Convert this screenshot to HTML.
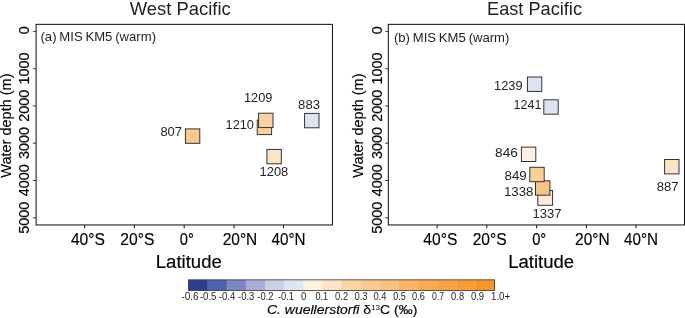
<!DOCTYPE html>
<html><head><meta charset="utf-8"><title>Pacific d13C</title>
<style>html,body{margin:0;padding:0;background:#fff}svg{display:block}text{font-family:"Liberation Sans",Arial,sans-serif}.ax{fill:#000;stroke:#000;stroke-width:.15}.lb{fill:#1f1f1f}.sq{stroke:#2b2b2b;stroke-width:.95}</style></head><body>
<svg width="685" height="318" viewBox="0 0 685 318">
<rect width="685" height="318" fill="#fff"/>
<rect x="36.10" y="24.35" width="296.35" height="200.6" fill="none" stroke="#0a0a0a" stroke-width="1"/>
<line x1="32.9" x2="36.1" y1="31.4" y2="31.4" stroke="#151515" stroke-width="0.8"/>
<text font-size="14.4" class="ax" text-anchor="middle" transform="translate(29.4 30.2) rotate(-90) scale(1 1.07)">0</text>
<line x1="32.9" x2="36.1" y1="68.7" y2="68.7" stroke="#151515" stroke-width="0.8"/>
<text font-size="14.4" class="ax" text-anchor="middle" transform="translate(29.4 68.5) rotate(-90) scale(1 1.07)">1000</text>
<line x1="32.9" x2="36.1" y1="105.9" y2="105.9" stroke="#151515" stroke-width="0.8"/>
<text font-size="14.4" class="ax" text-anchor="middle" transform="translate(29.4 105.7) rotate(-90) scale(1 1.07)">2000</text>
<line x1="32.9" x2="36.1" y1="143.2" y2="143.2" stroke="#151515" stroke-width="0.8"/>
<text font-size="14.4" class="ax" text-anchor="middle" transform="translate(29.4 143.1) rotate(-90) scale(1 1.07)">3000</text>
<line x1="32.9" x2="36.1" y1="180.5" y2="180.5" stroke="#151515" stroke-width="0.8"/>
<text font-size="14.4" class="ax" text-anchor="middle" transform="translate(29.4 180.3) rotate(-90) scale(1 1.07)">4000</text>
<line x1="32.9" x2="36.1" y1="217.8" y2="217.8" stroke="#151515" stroke-width="0.8"/>
<text font-size="14.4" class="ax" text-anchor="middle" transform="translate(29.4 217.7) rotate(-90) scale(1 1.07)">5000</text>
<line x1="84.7" x2="84.7" y1="225" y2="228.3" stroke="#151515" stroke-width="1"/>
<text x="70.9" y="244.5" font-size="16" class="ax" textLength="34.0" lengthAdjust="spacingAndGlyphs">40°S</text>
<line x1="134.4" x2="134.4" y1="225" y2="228.3" stroke="#151515" stroke-width="1"/>
<text x="120.3" y="244.5" font-size="16" class="ax" textLength="34.0" lengthAdjust="spacingAndGlyphs">20°S</text>
<line x1="184.2" x2="184.2" y1="225" y2="228.3" stroke="#151515" stroke-width="1"/>
<text x="179.8" y="244.5" font-size="16" class="ax" textLength="14.0" lengthAdjust="spacingAndGlyphs">0°</text>
<line x1="234.0" x2="234.0" y1="225" y2="228.3" stroke="#151515" stroke-width="1"/>
<text x="222.7" y="244.5" font-size="16" class="ax" textLength="34.6" lengthAdjust="spacingAndGlyphs">20°N</text>
<line x1="283.6" x2="283.6" y1="225" y2="228.3" stroke="#151515" stroke-width="1"/>
<text x="271.6" y="244.5" font-size="16" class="ax" textLength="34.0" lengthAdjust="spacingAndGlyphs">40°N</text>
<text x="155.8" y="267.6" font-size="18" class="ax" textLength="66.0" lengthAdjust="spacingAndGlyphs">Latitude</text>
<text x="10.6" y="125.6" font-size="14.5" class="ax" text-anchor="middle" transform="rotate(-90 10.6 125.6)">Water depth (m)</text>
<text x="129.8" y="14.9" font-size="18.4" class="lb" textLength="101" lengthAdjust="spacingAndGlyphs">West Pacific</text>
<text x="40.5" y="40.6" font-size="13" class="lb" textLength="115.5" lengthAdjust="spacingAndGlyphs" word-spacing="-0.8">(a) MIS KM5 (warm)</text>
<rect x="388.30" y="24.35" width="296.2" height="200.6" fill="none" stroke="#0a0a0a" stroke-width="1"/>
<line x1="385.1" x2="388.3" y1="31.4" y2="31.4" stroke="#151515" stroke-width="0.8"/>
<text font-size="14.4" class="ax" text-anchor="middle" transform="translate(381.6 30.2) rotate(-90) scale(1 1.07)">0</text>
<line x1="385.1" x2="388.3" y1="68.7" y2="68.7" stroke="#151515" stroke-width="0.8"/>
<text font-size="14.4" class="ax" text-anchor="middle" transform="translate(381.6 68.5) rotate(-90) scale(1 1.07)">1000</text>
<line x1="385.1" x2="388.3" y1="105.9" y2="105.9" stroke="#151515" stroke-width="0.8"/>
<text font-size="14.4" class="ax" text-anchor="middle" transform="translate(381.6 105.7) rotate(-90) scale(1 1.07)">2000</text>
<line x1="385.1" x2="388.3" y1="143.2" y2="143.2" stroke="#151515" stroke-width="0.8"/>
<text font-size="14.4" class="ax" text-anchor="middle" transform="translate(381.6 143.1) rotate(-90) scale(1 1.07)">3000</text>
<line x1="385.1" x2="388.3" y1="180.5" y2="180.5" stroke="#151515" stroke-width="0.8"/>
<text font-size="14.4" class="ax" text-anchor="middle" transform="translate(381.6 180.3) rotate(-90) scale(1 1.07)">4000</text>
<line x1="385.1" x2="388.3" y1="217.8" y2="217.8" stroke="#151515" stroke-width="0.8"/>
<text font-size="14.4" class="ax" text-anchor="middle" transform="translate(381.6 217.7) rotate(-90) scale(1 1.07)">5000</text>
<line x1="437.1" x2="437.1" y1="225" y2="228.3" stroke="#151515" stroke-width="1"/>
<text x="423.3" y="244.5" font-size="16" class="ax" textLength="34.0" lengthAdjust="spacingAndGlyphs">40°S</text>
<line x1="486.8" x2="486.8" y1="225" y2="228.3" stroke="#151515" stroke-width="1"/>
<text x="472.7" y="244.5" font-size="16" class="ax" textLength="34.0" lengthAdjust="spacingAndGlyphs">20°S</text>
<line x1="536.6" x2="536.6" y1="225" y2="228.3" stroke="#151515" stroke-width="1"/>
<text x="532.2" y="244.5" font-size="16" class="ax" textLength="14.0" lengthAdjust="spacingAndGlyphs">0°</text>
<line x1="586.4" x2="586.4" y1="225" y2="228.3" stroke="#151515" stroke-width="1"/>
<text x="575.1" y="244.5" font-size="16" class="ax" textLength="34.6" lengthAdjust="spacingAndGlyphs">20°N</text>
<line x1="636.0" x2="636.0" y1="225" y2="228.3" stroke="#151515" stroke-width="1"/>
<text x="624.0" y="244.5" font-size="16" class="ax" textLength="34.0" lengthAdjust="spacingAndGlyphs">40°N</text>
<text x="508.2" y="267.6" font-size="18" class="ax" textLength="66.0" lengthAdjust="spacingAndGlyphs">Latitude</text>
<text x="363.0" y="125.6" font-size="14.5" class="ax" text-anchor="middle" transform="rotate(-90 363.0 125.6)">Water depth (m)</text>
<text x="487.0" y="14.9" font-size="18.4" class="lb" textLength="95" lengthAdjust="spacingAndGlyphs">East Pacific</text>
<text x="393.9" y="42" font-size="13" class="lb" textLength="115.5" lengthAdjust="spacingAndGlyphs" word-spacing="-0.8">(b) MIS KM5 (warm)</text>
<rect class="sq" x="185.4" y="128.9" width="14.4" height="14.4" fill="#F8C98F"/>
<rect class="sq" x="257.2" y="120.2" width="14.4" height="14.4" fill="#F9D2A2"/>
<rect class="sq" x="258.6" y="113.2" width="14.4" height="14.4" fill="#F9D2A2"/>
<rect class="sq" x="304.6" y="113.4" width="14.4" height="14.4" fill="#DDE3F0"/>
<rect class="sq" x="266.9" y="149.4" width="14.4" height="14.4" fill="#FBE4C7"/>
<text x="160.4" y="135.5" font-size="12.9" class="lb" textLength="21.6" lengthAdjust="spacingAndGlyphs">807</text>
<text x="244.0" y="101.7" font-size="12.9" class="lb" textLength="28.5" lengthAdjust="spacingAndGlyphs">1209</text>
<text x="298.1" y="108.6" font-size="12.9" class="lb" textLength="21.9" lengthAdjust="spacingAndGlyphs">883</text>
<text x="225.6" y="128.9" font-size="12.9" class="lb" textLength="28.3" lengthAdjust="spacingAndGlyphs">1210</text>
<text x="259.6" y="175.8" font-size="12.9" class="lb" textLength="28.7" lengthAdjust="spacingAndGlyphs">1208</text>
<rect class="sq" x="527.4" y="77.0" width="14.4" height="14.4" fill="#DDE3F0"/>
<rect class="sq" x="543.8" y="99.8" width="14.4" height="14.4" fill="#DDE3F0"/>
<rect class="sq" x="521.4" y="147.1" width="14.4" height="14.4" fill="#FDF0E0"/>
<rect class="sq" x="537.8" y="190.5" width="14.8" height="14.8" fill="#FCEEDC"/>
<rect class="sq" x="535.5" y="180.8" width="14.4" height="14.4" fill="#F6C385"/>
<rect class="sq" x="529.8" y="167.3" width="14.4" height="14.4" fill="#F8CE99"/>
<rect class="sq" x="664.6" y="159.5" width="14.4" height="14.4" fill="#FBE3C5"/>
<text x="494.1" y="90.2" font-size="12.9" class="lb" textLength="28.4" lengthAdjust="spacingAndGlyphs">1239</text>
<text x="513.6" y="109.4" font-size="12.9" class="lb" textLength="27.8" lengthAdjust="spacingAndGlyphs">1241</text>
<text x="495.1" y="157.3" font-size="12.9" class="lb" textLength="22.8" lengthAdjust="spacingAndGlyphs">846</text>
<text x="504.5" y="179.9" font-size="12.9" class="lb" textLength="22.3" lengthAdjust="spacingAndGlyphs">849</text>
<text x="503.9" y="196.1" font-size="12.9" class="lb" textLength="29.5" lengthAdjust="spacingAndGlyphs">1338</text>
<text x="532.6" y="217.6" font-size="12.9" class="lb" textLength="29.0" lengthAdjust="spacingAndGlyphs">1337</text>
<text x="656.7" y="190.5" font-size="12.9" class="lb" textLength="21.9" lengthAdjust="spacingAndGlyphs">887</text>
<rect x="188.40" y="279.85" width="19.44" height="10.6" fill="#2D3D94"/>
<rect x="207.54" y="279.85" width="19.44" height="10.6" fill="#4D61AC"/>
<rect x="226.68" y="279.85" width="19.44" height="10.6" fill="#7B87C1"/>
<rect x="245.82" y="279.85" width="19.44" height="10.6" fill="#A8ADD5"/>
<rect x="264.96" y="279.85" width="19.44" height="10.6" fill="#C7D2E8"/>
<rect x="284.10" y="279.85" width="19.44" height="10.6" fill="#DEE4F1"/>
<rect x="303.24" y="279.85" width="19.44" height="10.6" fill="#FDF1E1"/>
<rect x="322.38" y="279.85" width="19.44" height="10.6" fill="#FCE4C6"/>
<rect x="341.52" y="279.85" width="19.44" height="10.6" fill="#FAD5A6"/>
<rect x="360.66" y="279.85" width="19.44" height="10.6" fill="#F9CA92"/>
<rect x="379.80" y="279.85" width="19.44" height="10.6" fill="#F9C181"/>
<rect x="398.94" y="279.85" width="19.44" height="10.6" fill="#FAB566"/>
<rect x="418.08" y="279.85" width="19.44" height="10.6" fill="#F9AB53"/>
<rect x="437.22" y="279.85" width="19.44" height="10.6" fill="#F9A343"/>
<rect x="456.36" y="279.85" width="19.44" height="10.6" fill="#F89C35"/>
<rect x="475.50" y="279.85" width="19.44" height="10.6" fill="#F7952A"/>
<rect x="188.4" y="279.85" width="306.2" height="10.6" fill="none" stroke="#3a3030" stroke-width="0.8"/>
<text x="181.3" y="299.7" font-size="10.3" class="lb" textLength="17.4" lengthAdjust="spacingAndGlyphs">-0.6</text>
<text x="199.9" y="299.7" font-size="10.3" class="lb" textLength="16.5" lengthAdjust="spacingAndGlyphs">-0.5</text>
<text x="218.8" y="299.7" font-size="10.3" class="lb" textLength="16.5" lengthAdjust="spacingAndGlyphs">-0.4</text>
<text x="238.1" y="299.7" font-size="10.3" class="lb" textLength="16.1" lengthAdjust="spacingAndGlyphs">-0.3</text>
<text x="257.3" y="299.7" font-size="10.3" class="lb" textLength="16.2" lengthAdjust="spacingAndGlyphs">-0.2</text>
<text x="278.0" y="299.7" font-size="10.3" class="lb" textLength="16.0" lengthAdjust="spacingAndGlyphs">-0.1</text>
<text x="300.9" y="299.7" font-size="10.3" class="lb" textLength="5.4" lengthAdjust="spacingAndGlyphs">0</text>
<text x="315.5" y="299.7" font-size="10.3" class="lb" textLength="12.7" lengthAdjust="spacingAndGlyphs">0.1</text>
<text x="335.1" y="299.7" font-size="10.3" class="lb" textLength="13.0" lengthAdjust="spacingAndGlyphs">0.2</text>
<text x="354.4" y="299.7" font-size="10.3" class="lb" textLength="13.1" lengthAdjust="spacingAndGlyphs">0.3</text>
<text x="373.4" y="299.7" font-size="10.3" class="lb" textLength="13.0" lengthAdjust="spacingAndGlyphs">0.4</text>
<text x="393.3" y="299.7" font-size="10.3" class="lb" textLength="12.5" lengthAdjust="spacingAndGlyphs">0.5</text>
<text x="412.1" y="299.7" font-size="10.3" class="lb" textLength="12.8" lengthAdjust="spacingAndGlyphs">0.6</text>
<text x="432.1" y="299.7" font-size="10.3" class="lb" textLength="12.0" lengthAdjust="spacingAndGlyphs">0.7</text>
<text x="451.1" y="299.7" font-size="10.3" class="lb" textLength="13.0" lengthAdjust="spacingAndGlyphs">0.8</text>
<text x="470.9" y="299.7" font-size="10.3" class="lb" textLength="13.2" lengthAdjust="spacingAndGlyphs">0.9</text>
<text x="491.0" y="299.7" font-size="10.3" class="lb" textLength="19.1" lengthAdjust="spacingAndGlyphs">1.0+</text>
<text x="267" y="313.9" font-size="12.4" class="ax" textLength="150.4" lengthAdjust="spacingAndGlyphs"><tspan font-style="italic">C. wuellerstorfi</tspan> δ<tspan font-size="7.2" dy="-4.4" stroke="none">13</tspan><tspan dy="4.4">C (‰)</tspan></text>
</svg></body></html>
